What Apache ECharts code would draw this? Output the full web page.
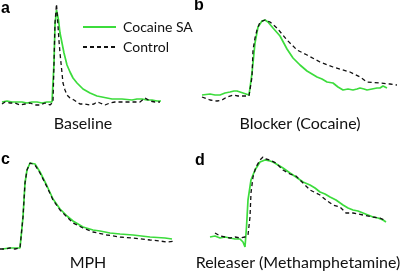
<!DOCTYPE html>
<html>
<head>
<meta charset="utf-8">
<script src="https://cdn.jsdelivr.net/npm/echarts@6/dist/echarts.min.js"></script>
<style>
  html, body { margin: 0; padding: 0; background: #fff; }
  #chart { width: 406px; height: 273px; }
</style>
</head>
<body>
<div id="chart"></div>
<script>
// [time, signal] pairs, signal = 0 at baseline
const aCocaine = [[0,1],[5,2],[10,1],[15,1],[20,1],[25,0],[30,1],[35,1],[40,0],[45,1],[50,1],[51,3],[52,40],[53,78],[54.5,93],[55.5,91],[56.5,83],[58,70],[60,60],[62,50],[65,38],[68,31],[71,25],[75,20],[81,14],[88,10],[95,7],[100,6],[110,4],[120,4],[130,3],[135,4],[140,4],[145,3],[150,3],[155,2],[159,2]];
const aControl = [[0,-1],[3,1],[5,-1],[8,0],[10,-2],[13,0],[15,-1],[18,-2],[20,0],[23,-1],[25,-2],[28,0],[30,-1],[33,-2],[35,-1],[38,-2],[40,-1],[43,0],[45,-1],[48,-2],[50,0],[51,1],[52,40],[53,80],[54.5,99],[55.5,85],[57,62],[58,50],[59.5,35],[61,20],[63,13],[65,8],[68,5],[72,3],[75,1],[78,-1],[80,1],[83,-1],[85,0],[88,-2],[90,-2],[92,-1],[95,1],[98,0],[100,-1],[103,-2],[105,-1],[108,0],[110,2],[113,1],[115,0],[118,1],[120,2],[123,1],[125,2],[128,1],[130,2],[133,1],[135,2],[138,1],[140,3],[143,5],[145,3],[148,2],[150,2],[153,1],[156,1],[158,1]];

const bCocaine = [[0,1],[8,2],[13,1],[18,1],[23,3],[28,4],[32,5],[35,5],[38,4],[40,3],[44,2],[47,1],[50,23],[53,53],[56,69],[60,75],[63,76],[66,74],[71,68],[78,60],[85,47],[91,38],[98,31],[105,25],[110,22],[115,19],[120,17],[125,14],[131,13],[136,9],[141,6],[146,7],[151,6],[155,7],[158,8],[162,7],[165,6],[170,7],[175,8],[178,8],[181,10],[185,8]];
const bControl = [[0,-1],[8,-4],[15,-5],[20,-4],[25,-1],[31,1],[36,0],[41,0],[47,0],[50,19],[51,46],[53,58],[55,66],[58,74],[63,76],[68,74],[75,68],[85,56],[95,46],[105,41],[118,34],[131,29],[148,24],[158,19],[165,14],[178,13],[188,12],[195,11]];

const cCocaine = [[2,0],[10,1],[20,1],[22,2],[23,32],[25,66],[27,79],[30,86],[32,87],[35,85],[40,77],[47,63],[53,50],[60,40],[67,33],[73,28],[83,22],[93,19],[100,18],[110,16],[120,15],[133,14],[150,12],[165,11],[172,10]];
const cControl = [[0,0],[5,0],[10,1],[15,0],[20,1],[22,2],[23,32],[25,66],[27,79],[30,86],[32,87],[35,84],[40,76],[47,62],[53,49],[60,39],[67,32],[73,26],[83,21],[93,17],[107,14],[120,12],[133,11],[150,9],[160,8],[167,7],[175,8]];

const dCocaine = [[0,1],[5,2],[10,0],[15,1],[20,0],[25,-1],[30,-1],[33,-4],[35,-9],[36,-10],[36.5,11],[38,38],[41,58],[45,68],[50,76],[55,78],[60,77],[63,76],[68,73],[73,70],[80,65],[86,61],[93,56],[100,53],[105,50],[110,46],[115,44],[120,41],[126,38],[133,33],[138,30],[143,28],[148,27],[153,25],[158,23],[163,21],[168,20],[173,18],[176,16]];
const dControl = [[5,5],[10,2],[15,1],[20,0],[25,1],[30,0],[35,1],[38,3],[40,21],[41,45],[43,61],[46,71],[50,78],[53,81],[56,79],[60,78],[66,75],[73,68],[80,64],[86,62],[93,55],[100,48],[110,43],[116,38],[123,33],[130,31],[136,25],[143,25],[153,23],[163,21],[170,20],[176,17]];

const panelNames = ['Baseline', 'Blocker (Cocaine)', 'MPH', 'Releaser (Methamphetamine)'];
const panelLetters = ['a', 'b', 'c', 'd'];

const green = '#3cdc3c';
const black = '#111';

const chart = echarts.init(document.getElementById('chart'), null, { renderer: 'canvas' });

// panel layout: grid box + axis ranges
const panels = [
  { grid: { left: 2, top: 0, width: 160, height: 110 }, x: [0, 160], y: [-7, 103], g: aCocaine, k: aControl },
  { grid: { left: 202, top: 0, width: 196, height: 110 }, x: [0, 196], y: [-14, 96], g: bCocaine, k: bControl },
  { grid: { left: 0, top: 136, width: 180, height: 120 }, x: [0, 180], y: [-7, 113], g: cCocaine, k: cControl },
  { grid: { left: 210, top: 136, width: 180, height: 120 }, x: [0, 180], y: [-18, 102], g: dCocaine, k: dControl }
];

const grids = [], xAxes = [], yAxes = [], series = [];
panels.forEach((p, i) => {
  grids.push(p.grid);
  xAxes.push({ type: 'value', gridIndex: i, min: p.x[0], max: p.x[1], show: false });
  yAxes.push({ type: 'value', gridIndex: i, min: p.y[0], max: p.y[1], show: false });
  series.push({
    name: 'Cocaine SA', type: 'line', xAxisIndex: i, yAxisIndex: i,
    data: p.g, symbol: 'none', lineStyle: { color: green, width: 1.7 }, itemStyle: { color: green }
  });
  series.push({
    name: 'Control', type: 'line', xAxisIndex: i, yAxisIndex: i,
    data: p.k, symbol: 'none', lineStyle: { color: black, width: 1.3, type: [4, 3] }, itemStyle: { color: black }
  });
});

const labelPos = [[83, 124], [300, 124], [88, 263], [298, 263]];
const letterPos = [[1, 8.5], [194, 5.5], [1, 159.5], [195, 160.5]];

const graphics = [];
panelNames.forEach((t, i) => {
  graphics.push({
    type: 'text', x: labelPos[i][0], y: labelPos[i][1],
    style: { text: t, font: '16px Lato', fill: '#111', align: 'center', verticalAlign: 'middle' }
  });
  graphics.push({
    type: 'text', x: letterPos[i][0], y: letterPos[i][1],
    style: { text: panelLetters[i], font: 'bold 16px "Liberation Sans"', fill: '#000', align: 'left', verticalAlign: 'middle' }
  });
});

chart.setOption({
  animation: false,
  backgroundColor: '#fff',
  grid: grids,
  xAxis: xAxes,
  yAxis: yAxes,
  legend: {
    data: ['Cocaine SA', 'Control'],
    orient: 'vertical',
    left: 77, top: 15,
    itemWidth: 33, itemHeight: 14, itemGap: 6,
    itemStyle: { opacity: 0 },
    textStyle: { fontFamily: 'Lato', fontSize: 14, color: '#111', padding: [0, 0, 0, 2] }
  },
  series: series,
  graphic: graphics
});
</script>
</body>
</html>
